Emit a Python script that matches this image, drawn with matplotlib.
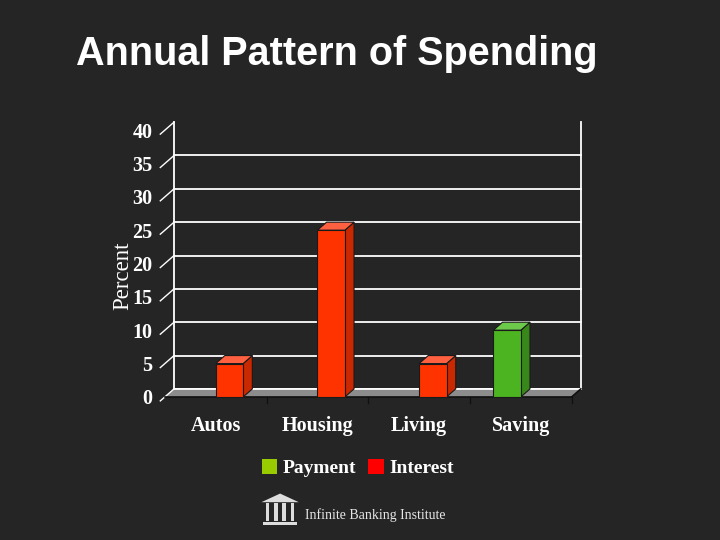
import matplotlib
matplotlib.use("Agg")
from matplotlib import pyplot as plt
from matplotlib.patches import Polygon, Patch, Rectangle
import numpy as np

categories = ["Autos", "Housing", "Living", "Saving"]
payment = [0, 0, 0, 10]
interest = [5, 25, 5, 0]
yticks = [0, 5, 10, 15, 20, 25, 30, 35, 40]

bg = "#252525"
red = ("#ff3300", "#c92800", "#ff6040")
green = ("#4cb321", "#38871a", "#6cc94a")

fig = plt.figure(figsize=(7.2, 5.4), dpi=100, facecolor=bg)
ax = fig.add_axes([0.229, 0.265, 0.565, 0.494])
ax.set_facecolor(bg)
ax.set_xlim(0, 4)
ax.set_ylim(0, 40)
for s in ax.spines.values():
    s.set_visible(False)

# depth offset in data units (about 9 px right, 8 px up)
dx, dy = 0.09, 1.2

# back wall gridlines and edges
for v in yticks[:-1]:
    ax.plot([dx, 4 + dx], [v + dy, v + dy], color="white", lw=1.3, clip_on=False, zorder=1)
ax.plot([dx, dx], [dy, 40 + dy], color="white", lw=1.3, clip_on=False, zorder=1)
ax.plot([4 + dx, 4 + dx], [dy, 40 + dy], color="white", lw=1.3, clip_on=False, zorder=1)

# floor
ax.add_patch(Polygon([(0, 0), (4, 0), (4 + dx, dy), (dx, dy)], closed=True,
                     facecolor="#8c8c8c", edgecolor="none", clip_on=False, zorder=2))
ax.plot([dx, 4 + dx], [dy, dy], color="white", lw=1.3, clip_on=False, zorder=2)
ax.plot([0, 4], [0, 0], color="#111111", lw=1.2, clip_on=False, zorder=3)
ax.plot([4, 4 + dx], [0, dy], color="#111111", lw=1.2, clip_on=False, zorder=3)

# diagonal tick marks
for v in yticks:
    ax.plot([-0.5 * dx, dx], [v - 0.5 * dy, v + dy], color="white", lw=1.0,
            clip_on=False, zorder=2)
for i in range(1, 5):
    ax.plot([i, i], [0, -0.9], color="#111111", lw=1.0, clip_on=False, zorder=3)


def bar3d(x, w, h, cols):
    if h <= 0:
        return
    front, side, top = cols
    ax.add_patch(Rectangle((x, 0), w, h, facecolor=front, edgecolor="#1a1a1a",
                           lw=0.8, zorder=6, clip_on=False))
    ax.add_patch(Polygon([(x + w, 0), (x + w + dx, dy), (x + w + dx, h + dy), (x + w, h)],
                         closed=True, facecolor=side, edgecolor="#1a1a1a", lw=0.8,
                         zorder=5, clip_on=False))
    ax.add_patch(Polygon([(x, h), (x + w, h), (x + w + dx, h + dy), (x + dx, h + dy)],
                         closed=True, facecolor=top, edgecolor="#1a1a1a", lw=0.8,
                         zorder=5, clip_on=False))


w = 0.27
centers = np.arange(len(categories)) + 0.5
for c, p, q in zip(centers, payment, interest):
    bar3d(c - w, w, p, green)
    bar3d(c, w, q, red)

ax.set_yticks(yticks)
ax.set_yticklabels([str(v) for v in yticks], family="Liberation Serif",
                   fontweight="bold", fontsize=14.5, color="white")
ax.set_xticks(centers)
ax.set_xticklabels(categories, family="Liberation Serif", fontweight="bold",
                   fontsize=14.5, color="white")
ax.tick_params(axis="y", length=0, pad=9)
ax.tick_params(axis="x", length=0, pad=14)
ax.set_ylabel("Percent", family="Liberation Serif", fontsize=16.5, color="white")
ax.yaxis.set_label_coords(-0.078, 0.455)

fig.text(0.106, 0.9, "Annual Pattern of Spending", family="Liberation Sans",
         fontweight="bold", fontsize=28.5, color="white", ha="left", va="center")

handles = [Patch(facecolor="#99cc00", edgecolor="none"),
           Patch(facecolor="#ff0000", edgecolor="none")]
leg = fig.legend(handles, ["Payment", "Interest"], loc="center",
                 bbox_to_anchor=(0.497, 0.133), ncol=2, frameon=False,
                 handlelength=0.8, handleheight=0.8, handletextpad=0.3,
                 columnspacing=0.6,
                 prop={"family": "Liberation Serif", "weight": "bold", "size": 14})
for t in leg.get_texts():
    t.set_color("white")

# logo
lx, ly = 0.365, 0.028
fig.patches.append(Rectangle((lx, ly), 0.048, 0.006, transform=fig.transFigure,
                             facecolor="#dddddd", edgecolor="none"))
for k in range(4):
    fig.patches.append(Rectangle((lx + 0.004 + k * 0.0115, ly + 0.008), 0.005, 0.032,
                                 transform=fig.transFigure, facecolor="#dddddd",
                                 edgecolor="none"))
fig.patches.append(Polygon([(lx - 0.002, ly + 0.042), (lx + 0.05, ly + 0.042),
                            (lx + 0.024, ly + 0.058)], closed=True,
                           transform=fig.transFigure, facecolor="#dddddd",
                           edgecolor="none"))
fig.text(0.423, 0.047, "Infinite Banking Institute", family="Liberation Serif",
         fontsize=10, color="#e6e6e6", ha="left", va="center")

fig.savefig("out.png", dpi=100, facecolor=bg)
